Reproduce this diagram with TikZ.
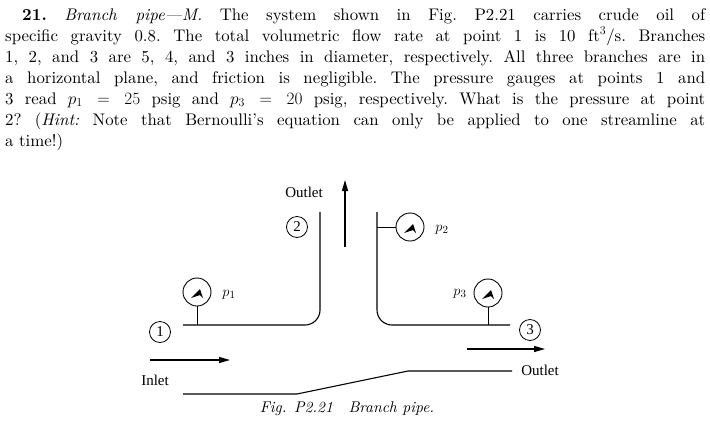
\documentclass[tikz,border=0pt]{standalone}
\usepackage{fontspec}
\setmainfont{lmroman10}[Extension=.otf,UprightFont=*-regular,BoldFont=*-bold,ItalicFont=*-italic,BoldItalicFont=*-bolditalic,Ligatures=TeX]
\newfontfamily\tms{Liberation Serif}
\usetikzlibrary{arrows.meta}
\tikzset{pipe/.style={line width=1.1pt},
 num/.style={circle,draw,line width=0.8pt,minimum size=21pt,inner sep=0pt,font=\tms\fontsize{15}{15}\selectfont},
 gauge/.style={circle,draw,line width=0.9pt,minimum size=28pt,inner sep=0pt},
 flow/.style={line width=1.3pt,-{Triangle[length=11pt,width=6pt]}},
 lbl/.style={font=\tms\fontsize{15}{15}\selectfont,inner sep=0pt},
 txt/.style={anchor=base west,inner sep=0pt,font=\rmfamily\frenchspacing\fontsize{16.8}{21}\selectfont}}
\newcommand{\needle}[1]{\fill (#1)++(-6pt,-6pt) -- ++(9pt,3pt) -- ++(3pt,-3pt) -- ++(-3pt,9pt) -- ++(-3pt,-3pt) -- cycle;}
\begin{document}
\begin{tikzpicture}[x=1pt,y=-1pt]
\useasboundingbox (0,0) rectangle (710,429);
\node[txt] (l1) at (22,20) {\hbox to 683pt{\textbf{21.} \textit{Branch pipe---M.} The system shown in Fig. P2.21 carries crude oil of}};
\node[txt] (l2) at (5,41) {\hbox to 700pt{specific gravity 0.8. The total volumetric flow rate at point 1 is 10 ft$^3$/s. Branches}};
\node[txt] (l3) at (5,62) {\hbox to 700pt{1, 2, and 3 are 5, 4, and 3 inches in diameter, respectively. All three branches are in}};
\node[txt] (l4) at (5,83) {\hbox to 700pt{a horizontal plane, and friction is negligible. The pressure gauges at points 1 and}};
\node[txt] (l5) at (5,104) {\hbox to 700pt{3 read $p_1=25$ psig and $p_3=20$ psig, respectively. What is the pressure at point}};
\node[txt] (l6) at (5,125) {\hbox to 700pt{2? (\textit{Hint:} Note that Bernoulli's equation can only be applied to one streamline at}};
\node[txt] (l7) at (5,146) {a time!)};
% pipes
\draw[pipe] (183,325) -- (305,325) arc[start angle=90,end angle=0,radius=15] -- (320,212);
\draw[pipe] (377,212) -- (377,310) arc[start angle=180,end angle=90,radius=15] -- (510,325);
\draw[pipe] (183,394) -- (297,394) -- (408,371) -- (512,371);
% gauges
\node[gauge] (g1) at (197,292) {}; \needle{g1}
\node[gauge] (g2) at (410,227) {}; \needle{g2}
\node[gauge] (g3) at (488,293) {}; \needle{g3}
\draw[line width=0.9pt] (g1.south) -- (197,325);
\draw[line width=0.9pt] (g3.south) -- (488,325);
\draw[line width=0.9pt] (g2.west) -- (377,227);
\node[lbl] (p1) at (229,295) {$p_1$};
\node[lbl] (p2) at (442,230) {$p_2$};
\node[lbl] (p3) at (460,294) {$p_3$};
% numbers
\node[num] (n1) at (160,332) {1};
\node[num] (n2) at (297,227) {2};
\node[num] (n3) at (530,330) {3};
% flows
\coordinate (a1) at (150,360); \coordinate (b1) at (230,360);
\coordinate (a2) at (345,247); \coordinate (b2) at (345,180);
\coordinate (a3) at (467,349); \coordinate (b3) at (545,349);
\draw[flow] (a1) -- (b1);
\draw[flow] (a2) -- (b2);
\draw[flow] (a3) -- (b3);
\node[lbl] (o2) at (304,192) {Outlet};
\node[lbl] (in) at (155,380) {Inlet};
\node[lbl] (o3) at (540,370) {Outlet};
\node[inner sep=0pt,font=\rmfamily\fontsize{15.5}{15.5}\selectfont] (cap) at (347,409) {\textit{Fig. P2.21\quad Branch pipe.}};
\end{tikzpicture}
\end{document}
